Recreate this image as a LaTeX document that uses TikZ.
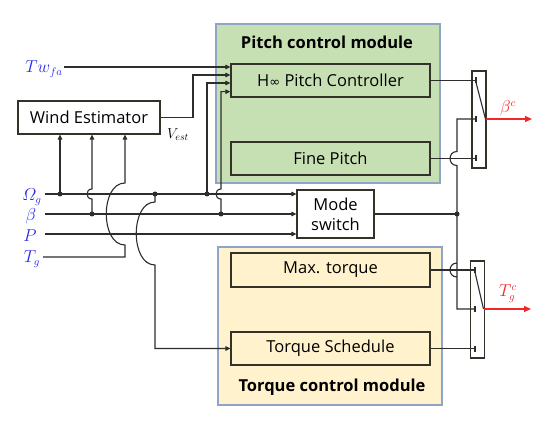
\documentclass[tikz,border=0pt]{standalone}
\usepackage{amsmath}
\usepackage{fontspec}
\setmainfont{Open Sans}
\newfontfamily\symfont{DejaVu Sans}
\usetikzlibrary{arrows.meta}
\definecolor{linec}{RGB}{45,45,45}
\definecolor{boxc}{RGB}{50,50,40}
\definecolor{modc}{RGB}{140,165,200}
\definecolor{greenf}{RGB}{198,224,180}
\definecolor{yellowf}{RGB}{255,242,204}
\definecolor{lblue}{RGB}{40,40,235}
\definecolor{lred}{RGB}{240,40,40}
\newcommand{\fs}{\fontsize{16.5}{20}\selectfont}
\begin{document}
\begin{tikzpicture}[x=1pt,y=-1pt,
 ln/.style={draw=linec, line width=1.1pt},
 arr/.style={-{Triangle[length=5pt,width=4.5pt]}},
 term/.style={-{Bar[width=6pt,line width=2pt]}},
 redarr/.style={draw=lred, line width=1.3pt, -{Triangle[length=7pt,width=6pt]}},
 jdot/.style={circle, fill=linec, inner sep=0, minimum size=5pt},
 box/.style={draw=boxc, line width=1.2pt, inner sep=0, font=\fs},
 module/.style={draw=modc, line width=1.2pt, inner sep=0},
 lab/.style={text=lblue, font=\fontsize{16}{18}\selectfont, inner sep=0},
 rlab/.style={text=lred, font=\fontsize{16}{18}\selectfont, inner sep=0}]
\useasboundingbox (0,0) rectangle (550,428);
\fill[white] (0,0) rectangle (550,428);

% modules
\node[module, fill=greenf, minimum width=224pt, minimum height=159pt] (pmod) at (328,103.5) {};
\node[module, fill=yellowf, minimum width=224pt, minimum height=158pt] (tmod) at (330,326) {};
\node[font=\bfseries\fs] (ptitle) at (327,42) {Pitch control module};
\node[font=\bfseries\fs] (ttitle) at (332,387) {Torque control module};

% boxes
\node[box, fill=white, minimum width=142pt, minimum height=33pt] (we) at (89,117.5) {Wind Estimator};
\node[box, fill=greenf, minimum width=199pt, minimum height=33pt] (hinf) at (330.5,80.5) {H{\symfont\fontsize{13}{16}\selectfont ∞} Pitch Controller};
\node[box, fill=greenf, minimum width=199pt, minimum height=33pt] (fine) at (330.5,158.5) {Fine Pitch};
\node[box, fill=white, minimum width=77pt, minimum height=48pt, align=center] (mode) at (335.5,214) {Mode\\switch};
\node[box, fill=yellowf, minimum width=199pt, minimum height=34pt] (maxt) at (330.5,270) {Max. torque};
\node[box, fill=yellowf, minimum width=199pt, minimum height=33pt] (tsch) at (330.5,348.5) {Torque Schedule};
\node[box, fill=white, minimum width=14pt, minimum height=97pt] (sw1) at (479,119.5) {};
\node[box, fill=white, minimum width=13.5pt, minimum height=97pt] (sw2) at (477.5,309.5) {};

% labels
\node[lab] (ltw) at (44,69) {$Tw_{fa}$};
\node[lab] (log) at (32,197) {$\varOmega_g$};
\node[lab] (lb) at (31,216) {$\beta$};
\node[lab] (lp) at (30,236) {$P$};
\node[lab] (ltg) at (32,259) {$T_g$};
\node[inner sep=0, font=\fontsize{14}{16}\selectfont] (lv) at (178,135) {$V_{est}$};
\node[rlab] (lbc) at (508,108) {$\beta^c$};
\node[rlab] (ltc) at (508,294) {$T_g^c$};

% coordinates
\coordinate (og0) at (45,194);
\coordinate (b0) at (45,214);
\coordinate (p0) at (45,234);
\coordinate (tg0) at (43,257);
\coordinate (tw0) at (64,67);
\coordinate (jw1) at (60,194);
\coordinate (jtq) at (155,194);
\coordinate (jh3) at (207,194);
\coordinate (jb1) at (92,214);
\coordinate (jb2) at (221,214);
\coordinate (jm) at (457,214);

% main input lines
\draw[ln,arr] (og0) -- (og0 -| mode.west);
\draw[ln,arr] (b0) -- (b0 -| mode.west);
\draw[ln,arr] (p0) -- (p0 -| mode.west);
\draw[ln,arr] (tw0) -- (tw0 -| hinf.west);

% wind estimator inputs
\draw[ln,arr] (jw1) -- (jw1 |- we.south);
\draw[ln,arr] (jb1) -- (92,199) .. controls (85.3,199) and (85.3,189) .. (92,189) -- (jb1 |- we.south);
\draw[ln,arr] (tg0) -- (125,257) -- (125,245) .. controls (100,245) and (100,183) .. (125,183) -- (125,0 |- we.south);

% V_est
\draw[ln,arr] (we.east) -- (193,117.5) -- (193,75) -- (193,75 -| hinf.west);
% feedbacks into H-inf
\draw[ln,arr] (jh3) -- (207,83) -- (207,83 -| hinf.west);
\draw[ln,arr] (jb2) -- (221,199) .. controls (214.3,199) and (214.3,189) .. (221,189) -- (221,91.7) -- (221,91.7 -| hinf.west);

% torque schedule input
\draw[ln,arr] (jtq) -- (155,202) .. controls (130,202) and (130,265) .. (155,265) -- (155,348.5) -- (155,348.5 -| tsch.west);

% outputs to switches
\draw[ln,term] (hinf.east) -- (476.5,80.5);
\draw[ln,term] (fine.east) -- (476.5,158.5);
\draw[ln,term] (maxt.east) -- (475.5,270);
\draw[ln,term] (tsch.east) -- (475.5,348.5);
\draw[ln] (mode.east) -- (jm);
\draw[ln,term] (jm) -- (457,165.5) .. controls (447.7,165.5) and (447.7,151.5) .. (457,151.5) -- (457,119) -- (476.5,119);
\draw[ln,term] (jm) -- (457,277) .. controls (447.7,277) and (447.7,263) .. (457,263) -- (457,309) -- (475.5,309);

% switch blades
\draw[ln] (475.5,80.5) -- (485.5,119);
\draw[ln] (474.5,270) -- (483.5,309);
\draw[redarr] (485.5,119) -- (532,119);
\draw[redarr] (484,309) -- (531,309);

% dots
\foreach \p in {jw1,jtq,jh3,jb1,jb2,jm} \node[jdot] at (\p) {};
\end{tikzpicture}
\end{document}
